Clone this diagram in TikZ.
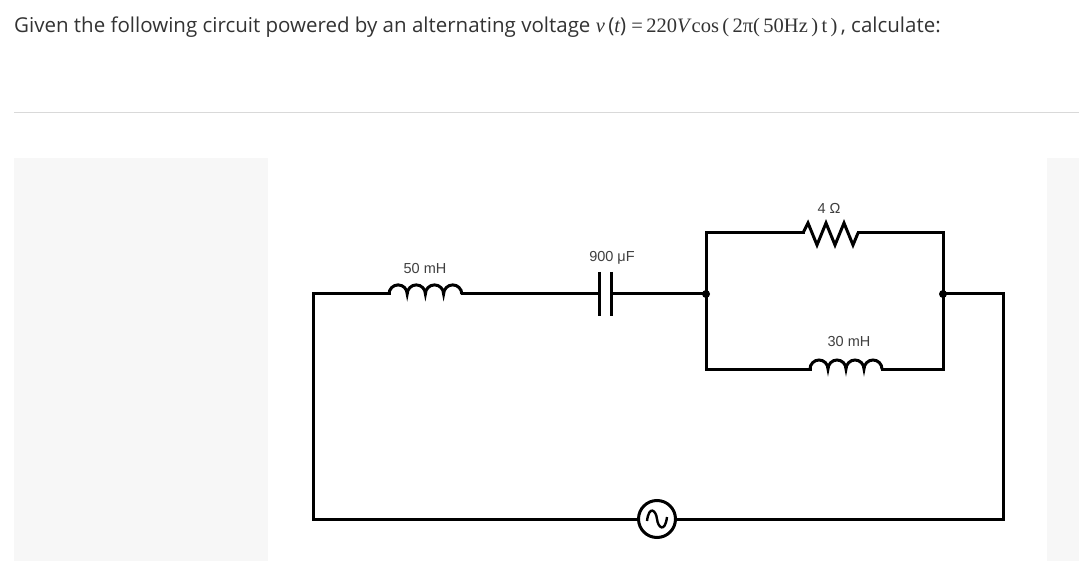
\documentclass[tikz,border=0pt]{standalone}
\usepackage{fontspec}
\setmainfont{Open Sans}
\newfontfamily\tms{Liberation Serif}
\newfontfamily\arl{Liberation Sans}
\begin{document}
\begin{tikzpicture}[x=1pt,y=-1pt,
  wire/.style={line width=3pt,line cap=rect},
  lbl/.style={font=\arl\fontsize{14.5}{14.5}\selectfont,text=black!75,inner sep=0pt},
  dot/.style={circle,fill=black,inner sep=0pt,minimum size=8pt}]
\useasboundingbox (0,0) rectangle (1079,561);
\fill[white] (0,0) rectangle (1079,561);
\fill[black!3] (14,158) rectangle (268,561);
\fill[black!3] (1047,158) rectangle (1079,561);
\draw[black!15,line width=1pt] (14,113) -- (1079,113);
\node[anchor=base west,inner sep=0pt,text=black!80,font=\fontsize{20.5}{21}\selectfont] (title) at (14,33)
 {Given the following circuit powered by an alternating voltage {\tms\itshape v}\,({\tms\itshape t}) {\tms =\,220\textit{V}cos\,(\,2π(\,50Hz\,)\,t\,)}\,, calculate:};
% nodes
\node[dot] (n1) at (706,294) {};
\node[dot] (n2) at (943,294) {};
\coordinate (tl) at (313,294);
\coordinate (bl) at (313,519);
\coordinate (br) at (1003,519);
\coordinate (tr) at (1003,294);
\node[circle,draw,line width=3pt,minimum size=37pt,inner sep=0pt] (src) at (657,519) {};
\draw[line width=2.4pt] (647,521) .. controls (649,505) and (656,510) .. (657,519) .. controls (658,528) and (665,533) .. (667,517);
% L1
\coordinate (l1a) at (389,294); \coordinate (l1b) at (462,294);
\draw[wire] (tl) -- (l1a);
\draw[line width=3pt] (l1a) arc (180:360:9.1) arc (180:360:9.1) arc (180:360:9.1) arc (180:360:9.1);
\node[lbl] (l1t) at (425,269) {50 mH};
% C
\coordinate (c1) at (599,294); \coordinate (c2) at (611,294);
\draw[wire] (l1b) -- (c1);
\draw[line width=3pt] (599,272) -- (599,316) (611,272) -- (611,316);
\draw[wire] (c2) -- (n1);
\node[lbl] (ct) at (612,258) {900 μF};
% parallel
\coordinate (ra) at (803,233); \coordinate (rb) at (858,233);
\draw[wire] (n1) |- (ra);
\draw[line width=3pt,line join=miter] (ra) -- (808,223) -- (817,245) -- (826,223) -- (835,245) -- (844,223) -- (853,245) -- (rb);
\draw[wire] (rb) -| (n2);
\node[lbl] (rt) at (829,208) {4 Ω};
\coordinate (l2a) at (810,369); \coordinate (l2b) at (882,369);
\draw[wire] (n1) |- (l2a);
\draw[line width=3pt] (l2a) arc (180:360:9) arc (180:360:9) arc (180:360:9) arc (180:360:9);
\draw[wire] (l2b) -| (n2);
\node[lbl] (l2t) at (849,342) {30 mH};
% loop
\draw[wire] (n2) -- (tr) -- (br) -- (src.east);
\draw[wire] (src.west) -- (bl) -- (tl);
\end{tikzpicture}
\end{document}
